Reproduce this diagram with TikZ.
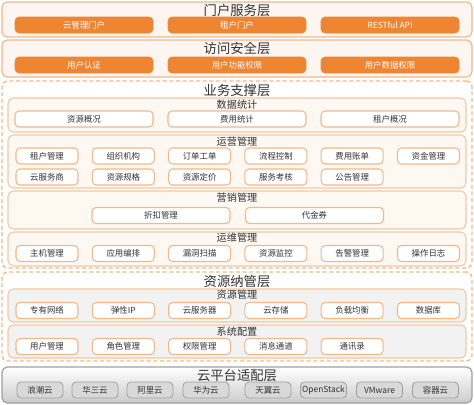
\documentclass[tikz,border=0pt]{standalone}
\usepackage{fontspec}
\setmainfont{Noto Sans CJK SC}
\definecolor{obord}{HTML}{F2B88A}
\definecolor{ofill}{HTML}{FDF6F0}
\definecolor{sbord}{HTML}{F3C7A2}
\definecolor{sfill}{HTML}{FEF8F3}
\definecolor{gfill}{HTML}{F2F2F2}
\definecolor{orng}{HTML}{EE8532}
\definecolor{txt}{HTML}{333333}
\definecolor{gpf}{HTML}{D9D9D9}
\definecolor{gpb}{HTML}{A0A0A0}
\begin{document}
\begin{tikzpicture}[x=0.75pt,y=-0.75pt,
  every node/.style={inner sep=0pt, outer sep=0pt, text=txt},
  layer/.style={draw=obord, fill=ofill, line width=0.9pt, rounded corners=4pt},
  dlayer/.style={draw=obord, fill=white, line width=1pt, dashed, dash pattern=on 3pt off 2pt, rounded corners=4pt},
  sub/.style={draw=sbord, fill=sfill, line width=0.8pt, rounded corners=4pt},
  gsub/.style={draw=sbord, fill=gfill, line width=0.8pt, rounded corners=4pt},
  ltitle/.style={font=\fontsize{10}{10}\selectfont},
  stitle/.style={font=\fontsize{7.6}{7.6}\selectfont},
  opill/.style={fill=orng, draw=orng, rounded corners=3pt, minimum height=12pt, minimum width=103.5pt, text=white, font=\fontsize{6.3}{6.3}\selectfont},
  wpill/.style={fill=white, draw=obord, line width=0.8pt, rounded corners=3pt, minimum height=12pt, font=\fontsize{6.3}{6.3}\selectfont},
  wide/.style={minimum width=103.5pt},
  narrow/.style={minimum width=46.5pt},
  gpill/.style={fill=gpf, draw=gpb, line width=0.6pt, rounded corners=3pt, minimum height=12pt, minimum width=34.5pt, font=\fontsize{6.3}{6.3}\selectfont},
  glayer/.style={draw=gpb, line width=0.9pt, rounded corners=4pt, top color=white, bottom color=gpf!85!gray}
]
\useasboundingbox (0,0) rectangle (474,404);

% Layer 1
\node[layer, minimum width=352.5pt, minimum height=26.25pt] (L1) at (237,19.5) {};
\node[ltitle] (L1t) at (237,10) {门户服务层};
\node[opill] (p11) at (84,25) {云管理门户};
\node[opill] (p12) at (237,25) {租户门户};
\node[opill] (p13) at (390,25) {RESTful API};

% Layer 2
\node[layer, minimum width=352.5pt, minimum height=27.75pt] (L2) at (237,58.5) {};
\node[ltitle] (L2t) at (237,48.5) {访问安全层};
\node[opill] (p21) at (84,65) {用户认证};
\node[opill] (p22) at (237,65) {用户功能权限};
\node[opill] (p23) at (390,65) {用户数据权限};

% Layer 3
\node[dlayer, minimum width=352.5pt, minimum height=140.25pt] (L3) at (237,174.5) {};
\node[ltitle] (L3t) at (237,90.5) {业务支撑层};

\node[sub, minimum width=343.5pt, minimum height=25.5pt] (S1) at (237,115) {};
\node[stitle] (S1t) at (237,104.5) {数据统计};
\node[wpill, wide] (a1) at (84,119) {资源概况};
\node[wpill, wide] (a2) at (237,119) {费用统计};
\node[wpill, wide] (a3) at (390,119) {租户概况};

\node[sub, minimum width=343.5pt, minimum height=39.75pt] (S2) at (237,161.5) {};
\node[stitle] (S2t) at (237,142) {运营管理};
\node[wpill, narrow] (b1) at (47,156) {租户管理};
\node[wpill, narrow] (b2) at (123.3,156) {组织机构};
\node[wpill, narrow] (b3) at (199.6,156) {订单工单};
\node[wpill, narrow] (b4) at (275.9,156) {流程控制};
\node[wpill, narrow] (b5) at (352.2,156) {费用账单};
\node[wpill, narrow] (b6) at (428.5,156) {资金管理};
\node[wpill, narrow] (b7) at (47,177) {云服务商};
\node[wpill, narrow] (b8) at (123.3,177) {资源规格};
\node[wpill, narrow] (b9) at (199.6,177) {资源定价};
\node[wpill, narrow] (b10) at (275.9,177) {服务考核};
\node[wpill, narrow] (b11) at (352.2,177) {公告管理};

\node[sub, minimum width=343.5pt, minimum height=28.5pt] (S3) at (237,210) {};
\node[stitle] (S3t) at (237,198) {营销管理};
\node[wpill, wide] (c1) at (161,215.5) {折扣管理};
\node[wpill, wide] (c2) at (314.5,215.5) {代金券};

\node[sub, minimum width=343.5pt, minimum height=25.5pt] (S4) at (237,249) {};
\node[stitle] (S4t) at (237,238) {运维管理};
\node[wpill, narrow] (d1) at (47,253.5) {主机管理};
\node[wpill, narrow] (d2) at (123.3,253.5) {应用编排};
\node[wpill, narrow] (d3) at (199.6,253.5) {漏洞扫描};
\node[wpill, narrow] (d4) at (275.9,253.5) {资源监控};
\node[wpill, narrow] (d5) at (352.2,253.5) {告警管理};
\node[wpill, narrow] (d6) at (428.5,253.5) {操作日志};

% Layer 4
\node[dlayer, minimum width=352.5pt, minimum height=66.75pt] (L4) at (237,316.5) {};
\node[ltitle] (L4t) at (237,281.5) {资源纳管层};

\node[gsub, minimum width=343.5pt, minimum height=24.75pt] (S5) at (237,305.5) {};
\node[stitle] (S5t) at (237,295) {资源管理};
\node[wpill, narrow] (e1) at (47,310.5) {专有网络};
\node[wpill, narrow] (e2) at (123.3,310.5) {弹性IP};
\node[wpill, narrow] (e3) at (199.6,310.5) {云服务器};
\node[wpill, narrow] (e4) at (275.9,310.5) {云存储};
\node[wpill, narrow] (e5) at (352.2,310.5) {负载均衡};
\node[wpill, narrow] (e6) at (428.5,310.5) {数据库};

\node[gsub, minimum width=343.5pt, minimum height=24.75pt] (S6) at (237,341.5) {};
\node[stitle] (S6t) at (237,331.5) {系统配置};
\node[wpill, narrow] (f1) at (47,346.5) {用户管理};
\node[wpill, narrow] (f2) at (123.3,346.5) {角色管理};
\node[wpill, narrow] (f3) at (199.6,346.5) {权限管理};
\node[wpill, narrow] (f4) at (275.9,346.5) {消息通道};
\node[wpill, narrow] (f5) at (352.2,346.5) {通讯录};

% Layer 5
\node[glayer, minimum width=352.5pt, minimum height=27pt] (L5) at (237,385) {};
\node[ltitle] (L5t) at (237,375) {云平台适配层};
\node[gpill] (g1) at (40,390) {浪潮云};
\node[gpill] (g2) at (95,390) {华三云};
\node[gpill] (g3) at (150,390) {阿里云};
\node[gpill] (g4) at (206,390) {华为云};
\node[gpill] (g5) at (268,390) {天翼云};
\node[gpill] (g6) at (323.5,390) {OpenStack};
\node[gpill] (g7) at (379.5,390) {VMware};
\node[gpill] (g8) at (435.5,390) {容器云};
\end{tikzpicture}
\end{document}
